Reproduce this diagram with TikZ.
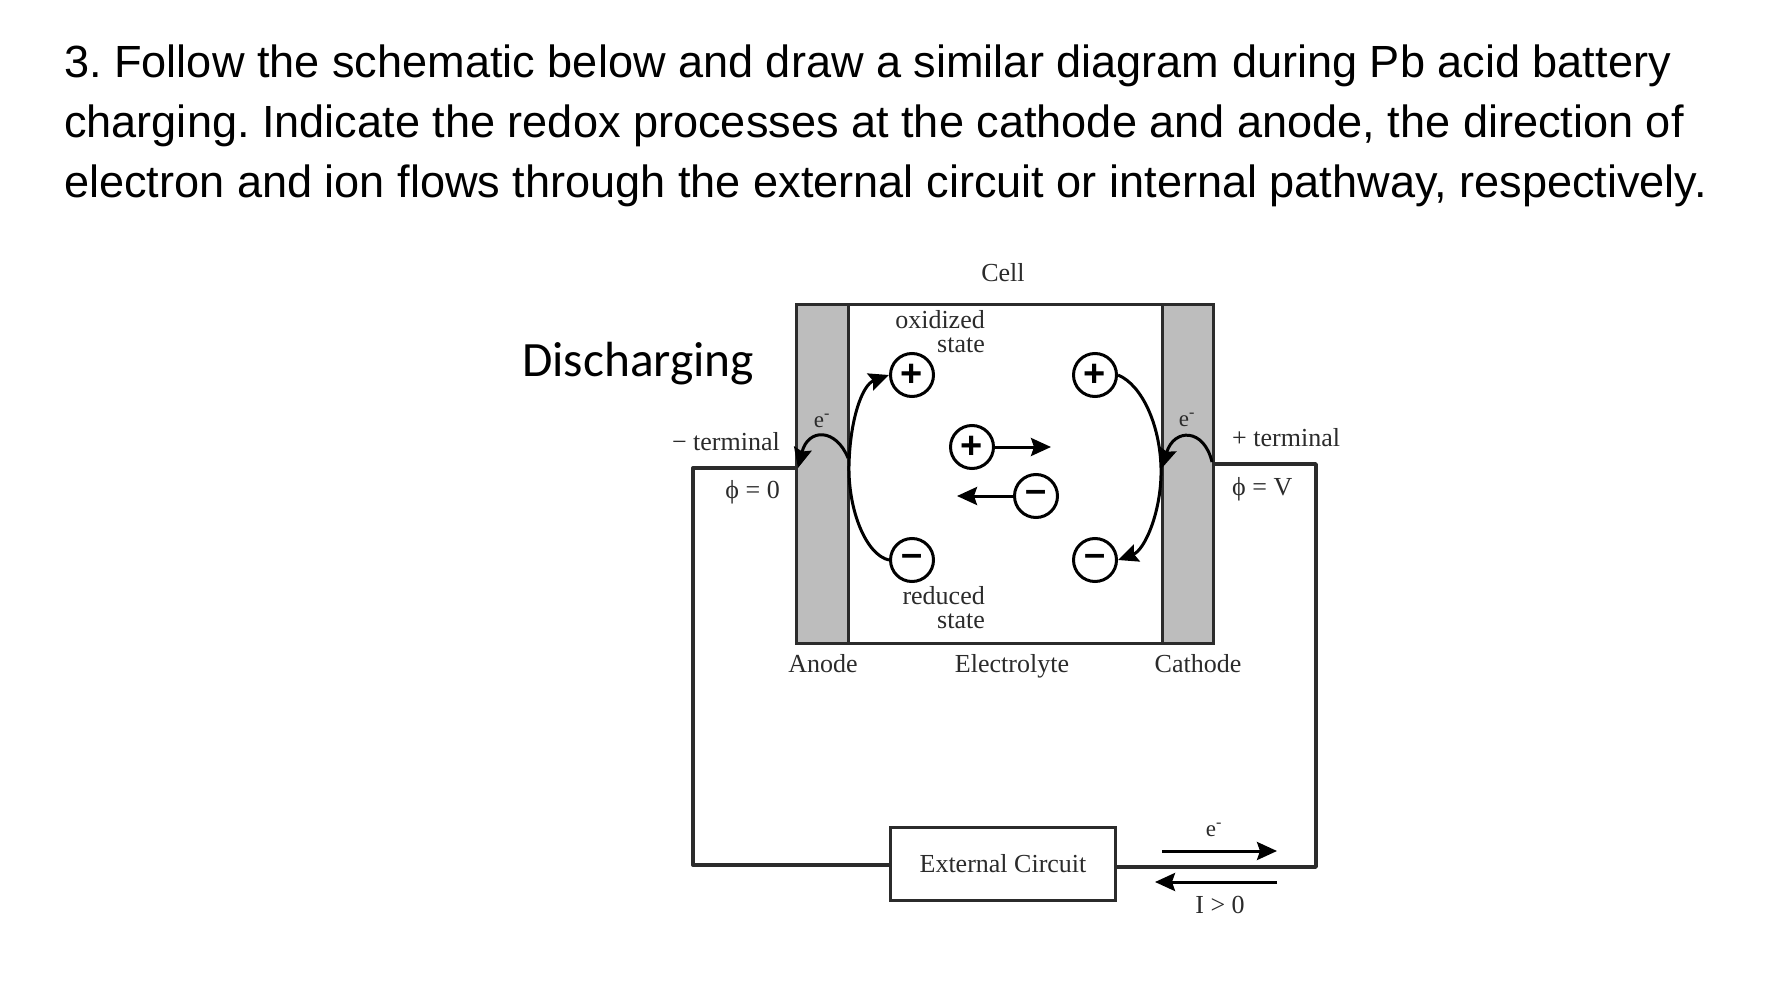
\documentclass[tikz,border=0pt]{standalone}
\usepackage{fontspec}
\usetikzlibrary{arrows.meta}
\setmainfont{Liberation Serif}
\newfontfamily\headfont{Liberation Sans}
\newfontfamily\calfont{Carlito}
\definecolor{ink}{HTML}{2B2B2B}
\definecolor{plate}{HTML}{BDBDBD}
\frenchspacing
\tikzset{
  x=1pt,y=-1pt,
  head/.style={anchor=base west,inner sep=0,text=black,font=\headfont\frenchspacing\fontsize{45.1}{50}\selectfont},
  lab/.style={inner sep=0,text=ink,font=\fontsize{26}{30}\selectfont},
  elec/.style={inner sep=0,text=ink,font=\fontsize{23}{26}\selectfont},
  wire/.style={draw=ink,line width=3.4pt,line join=round},
  electrode/.style={draw=ink,line width=3.4pt,fill=plate},
  ion/.style={circle,draw=black,line width=3pt,fill=white,minimum size=43pt,inner sep=0,text=black,font=\headfont\bfseries\fontsize{38}{38}\selectfont},
  flow/.style={draw=black,line width=3pt,-{Stealth[length=20pt,width=18pt,inset=3pt]}},
}
\begin{document}
\begin{tikzpicture}
\useasboundingbox (0,0) rectangle (1780,1000);
\fill[white] (0,0) rectangle (1780,1000);
% heading
\node[head] (h1) at (64,78) {3. Follow the schematic below and draw a similar diagram during Pb acid battery};
\node[head] (h2) at (64,138) {charging. Indicate the redox processes at the cathode and anode, the direction of};
\node[head] (h3) at (64,198) {electron and ion flows through the external circuit or internal pathway, respectively.};
\node[inner sep=0,anchor=west,text=black,font=\calfont\fontsize{49.4}{54}\selectfont] (dis) at (522,364) {Discharging};
% cell
\node[draw=ink,line width=3.4pt,minimum width=417pt,minimum height=339pt,inner sep=0,anchor=north west] (cell) at (795,303) {};
\node[electrode,minimum width=52pt,minimum height=339pt,inner sep=0,anchor=north west] (anode) at (795,303) {};
\node[electrode,minimum width=51pt,minimum height=339pt,inner sep=0,anchor=north west] (cathode) at (1161,303) {};
% external circuit
\node[draw=ink,line width=3.4pt,minimum width=225pt,minimum height=73pt,inner sep=0,lab] (ext) at (1003,864) {External Circuit};
% circuit wiring
\coordinate (lt) at (795,468);
\coordinate (lc) at (693,468);
\coordinate (lb) at (693,865);
\coordinate (rt) at (1212,464);
\coordinate (rc) at (1316,464);
\coordinate (rb) at (1316,867);
\draw[wire] (lt) -- (lc) -- (lb) -- (ext.west |- lb);
\draw[wire] (rt) -- (rc) -- (rb) -- (ext.east |- rb);
% ions
\node[ion] (lp) at (912,375) {+};
\node[ion] (lm) at (912,560) {\raisebox{-3.5pt}{–}};
\node[ion] (rp) at (1095,375) {+};
\node[ion] (rm) at (1095,560) {\raisebox{-3.5pt}{–}};
\node[ion] (mp) at (972,447) {+};
\node[ion] (mm) at (1036,496) {\raisebox{-3.5pt}{–}};
% ion drift
\coordinate (mpt) at (1051,447);
\coordinate (mmt) at (957,496);
\draw[flow] (mp) -- (mpt);
\draw[flow] (mm) -- (mmt);
% redox curves
\coordinate (la) at (849,465);
\coordinate (ra) at (1161,468);
\draw[flow] (lm.west) .. controls (866,555) and (848,510) .. (la) .. controls (850,420) and (862,385) .. (lp.west);
\draw[flow] (rp.east) .. controls (1142,385) and (1160,425) .. (ra) .. controls (1162,510) and (1145,550) .. (rm.east);
% electron hops
\coordinate (ls) at (848,458);
\coordinate (le) at (798,468);
\coordinate (rs) at (1212,462);
\coordinate (re) at (1162,468);
\draw[flow] (ls) .. controls (836,428) and (808,428) .. (le);
\draw[flow] (rs) .. controls (1204,428) and (1174,428) .. (re);
% external arrows
\coordinate (a1) at (1162,851);
\coordinate (a2) at (1277,851);
\coordinate (b1) at (1277,882);
\coordinate (b2) at (1155,882);
\draw[flow] (a1) -- (a2);
\draw[flow] (b1) -- (b2);
% labels
\node[lab] (tcell) at (1003,273) {Cell};
\node[lab,anchor=east] (tox) at (985,320) {oxidized};
\node[lab,anchor=east] (tos) at (985,345) {state};
\node[lab,anchor=east] (tre) at (985,596) {reduced};
\node[lab,anchor=east] (trs) at (985,621) {state};
\node[lab] (tan) at (823,664) {Anode};
\node[lab] (tel) at (1012,666) {Electrolyte};
\node[lab] (tca) at (1198,664) {Cathode};
\node[lab,anchor=east] (tm) at (780,442) {− terminal};
\node[lab,anchor=east] (pm) at (780,492) {ϕ = 0};
\node[lab,anchor=west] (tpl) at (1232,438) {+ terminal};
\node[lab,anchor=west] (ppl) at (1232,489) {ϕ = V};
\node[elec] (el) at (822,421) {e\textsuperscript{-}};
\node[elec] (er) at (1187,420) {e\textsuperscript{-}};
\node[elec] (ee) at (1214,830) {e\textsuperscript{-}};
\node[lab] (tI) at (1220,905) {I > 0};
\end{tikzpicture}
\end{document}
